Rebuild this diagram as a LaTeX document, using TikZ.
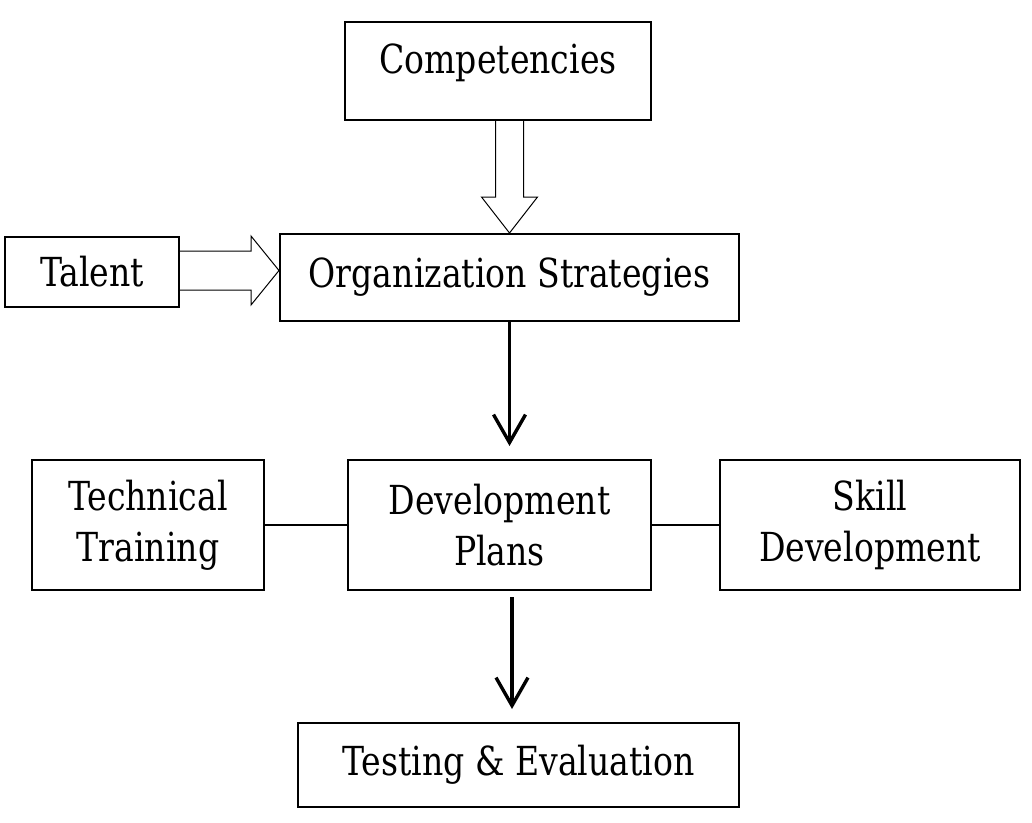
\documentclass[tikz,border=0pt]{standalone}
\usepackage{fontspec}
\setmainfont{DejaVu Serif Condensed}[FakeStretch=0.92]
\usetikzlibrary{calc,arrows.meta}
\begin{document}
\begin{tikzpicture}[x=1pt,y=-1pt,
  box/.style={draw,line width=2pt,inner sep=0pt,align=center,font=\fontsize{40}{51}\selectfont},
  lbl/.style={inner sep=0pt,align=center,font=\fontsize{40}{51}\selectfont},
  blockarrow/.style={draw,line width=1pt,fill=white,line join=miter},
  linearrow/.style={line width=3.4pt,-{Straight Barb[length=28pt,width=32pt,line width=3.4pt]}},
  link/.style={line width=2.8pt}]
\fill[white] (0,0) rectangle (1032,822);
\useasboundingbox (0,0) rectangle (1032,822);
\node[box,minimum width=306,minimum height=98] (comp) at (498,71) {};
\node[lbl] (comptext) at ($(comp.center)+(0,-8)$) {Competencies};
\node[box,minimum width=174,minimum height=70] (talent) at (92,272) {Talent};
\node[box,minimum width=459,minimum height=87] (org) at (509.5,277.5) {Organization Strategies};
\node[box,minimum width=232,minimum height=130] (tech) at (148,525) {Technical\\Training};
\node[box,minimum width=303,minimum height=130] (dev) at (499.5,525) {Development\\Plans};
\node[box,minimum width=300,minimum height=130] (skill) at (870,525) {Skill\\Development};
\node[box,minimum width=441,minimum height=84] (test) at (518.5,765) {Testing \& Evaluation};
% block arrow Competencies -> Organization
\coordinate (ctip) at (org.north);
\coordinate (cbase) at (comp.south -| ctip);
\draw[blockarrow] ($(cbase)+(-14,0)$) -- ($(ctip)+(-14,-36)$) -- ($(ctip)+(-28,-36)$) -- (ctip)
  -- ($(ctip)+(28,-36)$) -- ($(ctip)+(14,-36)$) -- ($(cbase)+(14,0)$);
% block arrow Talent -> Organization
\coordinate (ts) at ($(talent.east)+(0,-1.5)$);
\coordinate (ttip) at (org.west |- ts);
\draw[blockarrow] ($(ts)+(0,-19.5)$) -- ($(ttip)+(-28,-19.5)$) -- ($(ttip)+(-28,-34.5)$) -- (ttip)
  -- ($(ttip)+(-28,34.5)$) -- ($(ttip)+(-28,19.5)$) -- ($(ts)+(0,19.5)$);
% line arrows
\draw[linearrow,shorten >=13pt] (org.south) -- (org.south |- dev.north);
\coordinate (d2) at ($(dev.south)+(12.5,6)$);
\draw[linearrow,shorten >=13pt] (d2) -- (d2 |- test.north);
% links
\draw[link] (tech.east) -- (dev.west);
\draw[link] (dev.east) -- (skill.west);
\end{tikzpicture}
\end{document}
